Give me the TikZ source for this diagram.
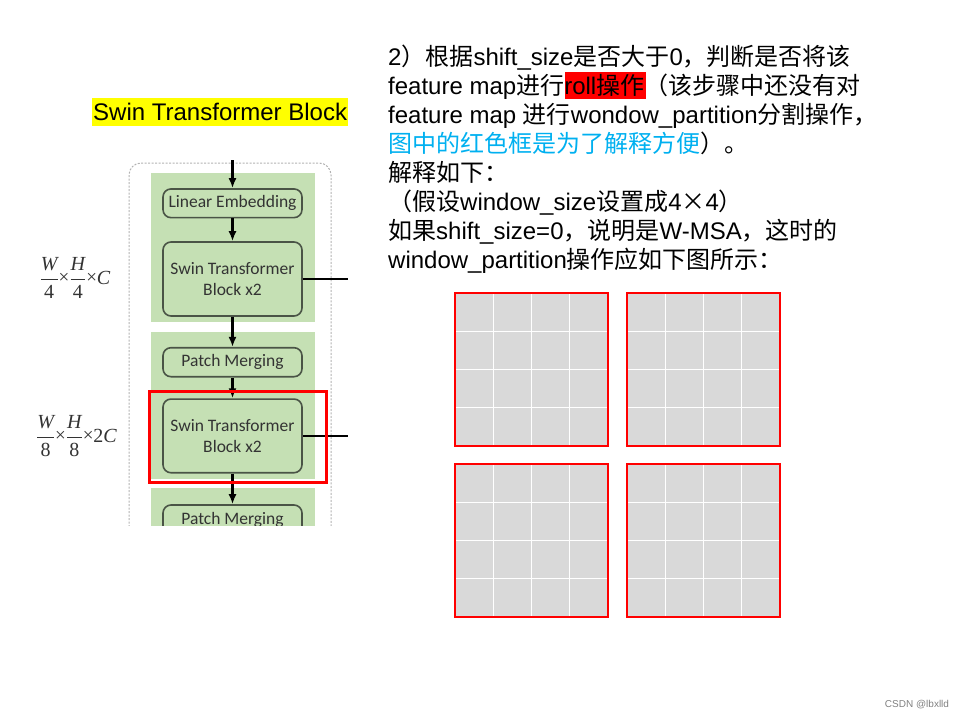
\documentclass[tikz,border=0pt]{standalone}
\usepackage{fontspec}
\setmainfont{Liberation Sans}
\newfontfamily\cjk{Noto Sans CJK SC}
\newfontfamily\carl{Carlito}
\newfontfamily\tms{Liberation Serif}
\usetikzlibrary{arrows.meta}
\newcommand\zh[1]{{\cjk #1}}
\newcommand\ti[1]{\hbox{\tms\itshape #1}}
\newcommand\tu[1]{\hbox{\tms #1}}
\newcommand\smtimes{\raisebox{0.8pt}{\tms\fontsize{19}{19}\selectfont ×}}
\definecolor{panelgreen}{HTML}{C5E0B4}
\definecolor{boxedge}{HTML}{4A5446}
\definecolor{labeltext}{HTML}{333333}
\definecolor{hlblue}{HTML}{00B0F0}
\definecolor{cellgray}{HTML}{D9D9D9}
\definecolor{hlyellow}{HTML}{FFFF00}
\definecolor{hlred}{HTML}{FF0000}
\tikzset{
 panel/.style={fill=panelgreen, draw=none, inner sep=0, anchor=north west, minimum width=164pt},
 blk/.style={draw=boxedge, fill=panelgreen, rounded corners=8pt, line width=1.6pt, minimum width=139pt, align=center, inner sep=0, font=\carl\fontsize{17.5}{21}\selectfont, text=labeltext},
 flow/.style={line width=2.4pt, -{Latex[length=10pt,width=8pt]}},
 side/.style={line width=2.4pt},
 txt/.style={anchor=base west, inner sep=0, font=\fontsize{24}{29}\selectfont},
 dimlab/.style={text=labeltext, inner sep=0, font=\tms\fontsize{20}{22}\selectfont}
}
\begin{document}
\begin{tikzpicture}[x=1pt,y=-1pt]
\useasboundingbox (0,0) rectangle (964,720);
% title
\node[fill=hlyellow, inner xsep=1pt, inner ysep=0, text height=22pt, text depth=6pt, anchor=base west, font=\fontsize{24}{29}\selectfont] (title) at (92,120) {Swin Transformer Block};
% left figure
\begin{scope}
\clip (20,150) rectangle (348,525);
\draw[gray!60, dash pattern=on 2pt off 1.5pt, line width=1pt, rounded corners=12pt] (129,163) rectangle (331,640);
\node[panel, minimum height=149pt] (p1) at (150.7,173) {};
\node[panel, minimum height=147pt] (p2) at (150.7,332) {};
\node[panel, minimum height=80pt] (p3) at (150.7,488) {};
\node[blk, minimum height=28.7pt] (le) at (232.5,203.3) {Linear Embedding};
\node[blk, minimum height=74pt] (stb1) at (232.5,279) {Swin Transformer\\Block x2};
\node[blk, minimum height=29pt] (pm1) at (232.5,362.2) {Patch Merging};
\node[blk, minimum height=73.7pt] (stb2) at (232.5,435.9) {Swin Transformer\\Block x2};
\node[blk, minimum height=29pt] (pm2) at (232.5,519.5) {Patch Merging};
\coordinate (top) at (232.5,160);
\coordinate (s1) at (348,279);
\coordinate (s2) at (348,435.9);
\draw[flow] (top) -- (le);
\draw[flow] (le) -- (stb1);
\draw[flow] (stb1) -- (pm1);
\draw[flow] (pm1) -- (stb2);
\draw[flow] (stb2) -- (pm2);
\draw[side] (stb1.east) -- (s1);
\draw[side] (stb2.east) -- (s2);
\end{scope}
\node[draw=hlred, line width=3pt, minimum width=177pt, minimum height=91pt, anchor=north west, inner sep=0] (hl) at (148,390) {};
\node[dimlab] (d1) at (75,278) {$\displaystyle\frac{\ti{W}}{\tu{4}}\smtimes\frac{\ti{H}}{\tu{4}}\smtimes\ti{C}$};
\node[dimlab] (d2) at (76.5,436) {$\displaystyle\frac{\ti{W}}{\tu{8}}\smtimes\frac{\ti{H}}{\tu{8}}\smtimes\tu{2}\ti{C}$};
% right text
\fill[hlred] (565,72) rectangle (646,99);
\node[txt] (l1) at (388,65) {2\zh{）根据}shift\_size\zh{是否大于}0\zh{，判断是否将该}};
\node[txt] (l2) at (388,94) {feature map\zh{进行}roll\zh{操作（该步骤中还没有对}};
\node[txt] (l3) at (388,123) {feature map \zh{进行}wondow\_partition\zh{分割操作，}};
\node[txt] (l4) at (388,152) {\textcolor{hlblue}{\zh{图中的红色框是为了解释方便}}\zh{）。}};
\node[txt] (l5) at (388,181) {\zh{解释如下：}};
\node[txt] (l6) at (388,210) {\zh{（假设}window\_size\zh{设置成}4\zh{×}4\zh{）}};
\node[txt] (l7) at (388,239) {\zh{如果}shift\_size=0\zh{，说明是}W-MSA\zh{，这时的}};
\node[txt] (l8) at (388,268) {window\_partition\zh{操作应如下图所示：}};
% grids
\foreach \x/\y in {455/293,627/293,455/464,627/464} {
  \fill[cellgray] (\x,\y) rectangle ++(153,153);
  \foreach \i in {1,2,3} {
    \draw[white, line width=1pt] (\x+\i*38.25,\y) -- ++(0,153);
    \draw[white, line width=1pt] (\x,\y+\i*38.25) -- ++(153,0);
  }
  \draw[hlred, line width=2.2pt] (\x,\y) rectangle ++(153,153);
}
\node[text=gray, inner sep=0, font=\fontsize{10}{12}\selectfont] (wm) at (917,705) {CSDN @lbxlld};
\end{tikzpicture}
\end{document}
